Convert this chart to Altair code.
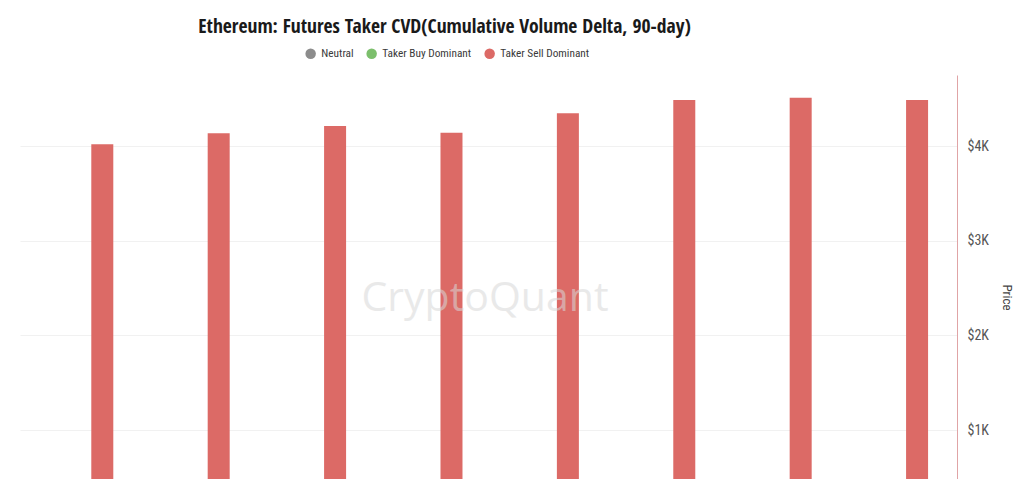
import altair as alt
import pandas as pd

# Data
periods = [0, 1, 2, 3, 4, 5, 6, 7]
prices = [4018, 4134, 4212, 4141, 4346, 4486, 4510, 4486]
dominance = ["Taker Sell Dominant"] * 8
legend_names = ["Neutral", "Taker Buy Dominant", "Taker Sell Dominant"]
legend_colors = ["#8c8c8c", "#7cbf6c", "#dc6a66"]
bar_color = "#d6716c"
price_ticks = [1000, 2000, 3000, 4000]

df = pd.DataFrame({"period": periods, "price": prices, "dominance": dominance})

FONT = "Roboto Condensed, Liberation Sans, sans-serif"
TFONT = "Open Sans Condensed, Roboto Condensed, sans-serif"

bars = alt.Chart(df).mark_bar(size=22, clip=True, color=bar_color).encode(
    x=alt.X("period:Q", scale=alt.Scale(domain=[-0.707, 7.343], nice=False, zero=False, padding=0), axis=None),
    y=alt.Y(
        "price:Q",
        scale=alt.Scale(domain=[483, 4750], nice=False, zero=False, padding=0),
        axis=alt.Axis(
            orient="right",
            values=price_ticks,
            labelExpr="'$' + datum.value / 1000 + 'K'",
            ticks=False,
            labelPadding=10,
            labelFontSize=14,
            labelColor="#555555",
            labelFont=FONT,
            domainColor="#e0a4a6",
            domainWidth=1,
            gridColor="#f1f1f1",
            grid=True,
            title="Price",
            titleFont=FONT,
            titleFontSize=13,
            titleFontWeight="normal",
            titleColor="#444444",
            titleX=42,
            titleY=222,
        ),
    ),
    color=alt.Color(
        "dominance:N",
        scale=alt.Scale(domain=legend_names, range=legend_colors),
        legend=alt.Legend(
            title=None,
            orient="none",
            direction="horizontal",
            legendX=285,
            legendY=-27,
            symbolType="circle",
            symbolSize=110,
            symbolStrokeWidth=0,
            symbolOpacity=1,
            labelFont=FONT,
            labelFontSize=11.3,
            labelColor="#3a3a3a",
            labelOffset=5,
            columnPadding=12,
            padding=0,
        ),
    ),
)

watermark = alt.Chart(pd.DataFrame({"t": ["CryptoQuant"]})).mark_text(
    font="Open Sans", fontSize=41, color="#d8d8d8", opacity=0.55, align="center", baseline="middle"
).encode(text="t:N", x=alt.value(465), y=alt.value(224))

chart = alt.layer(bars, watermark).properties(
    width=937,
    height=404,
    autosize=alt.AutoSizeParams(type="none"),
    padding={"left": 12, "top": 67, "right": 59, "bottom": 0},
    title=alt.TitleParams(
        "Ethereum: Futures Taker CVD(Cumulative Volume Delta, 90-day)",
        font=TFONT,
        fontSize=19.6,
        fontWeight="bold",
        color="#1a1a1a",
        anchor="middle",
        dx=-44,
        offset=10,
    ),
).configure_view(stroke=None)

chart.save("out.html", embed_options={"renderer": "svg", "actions": False})
